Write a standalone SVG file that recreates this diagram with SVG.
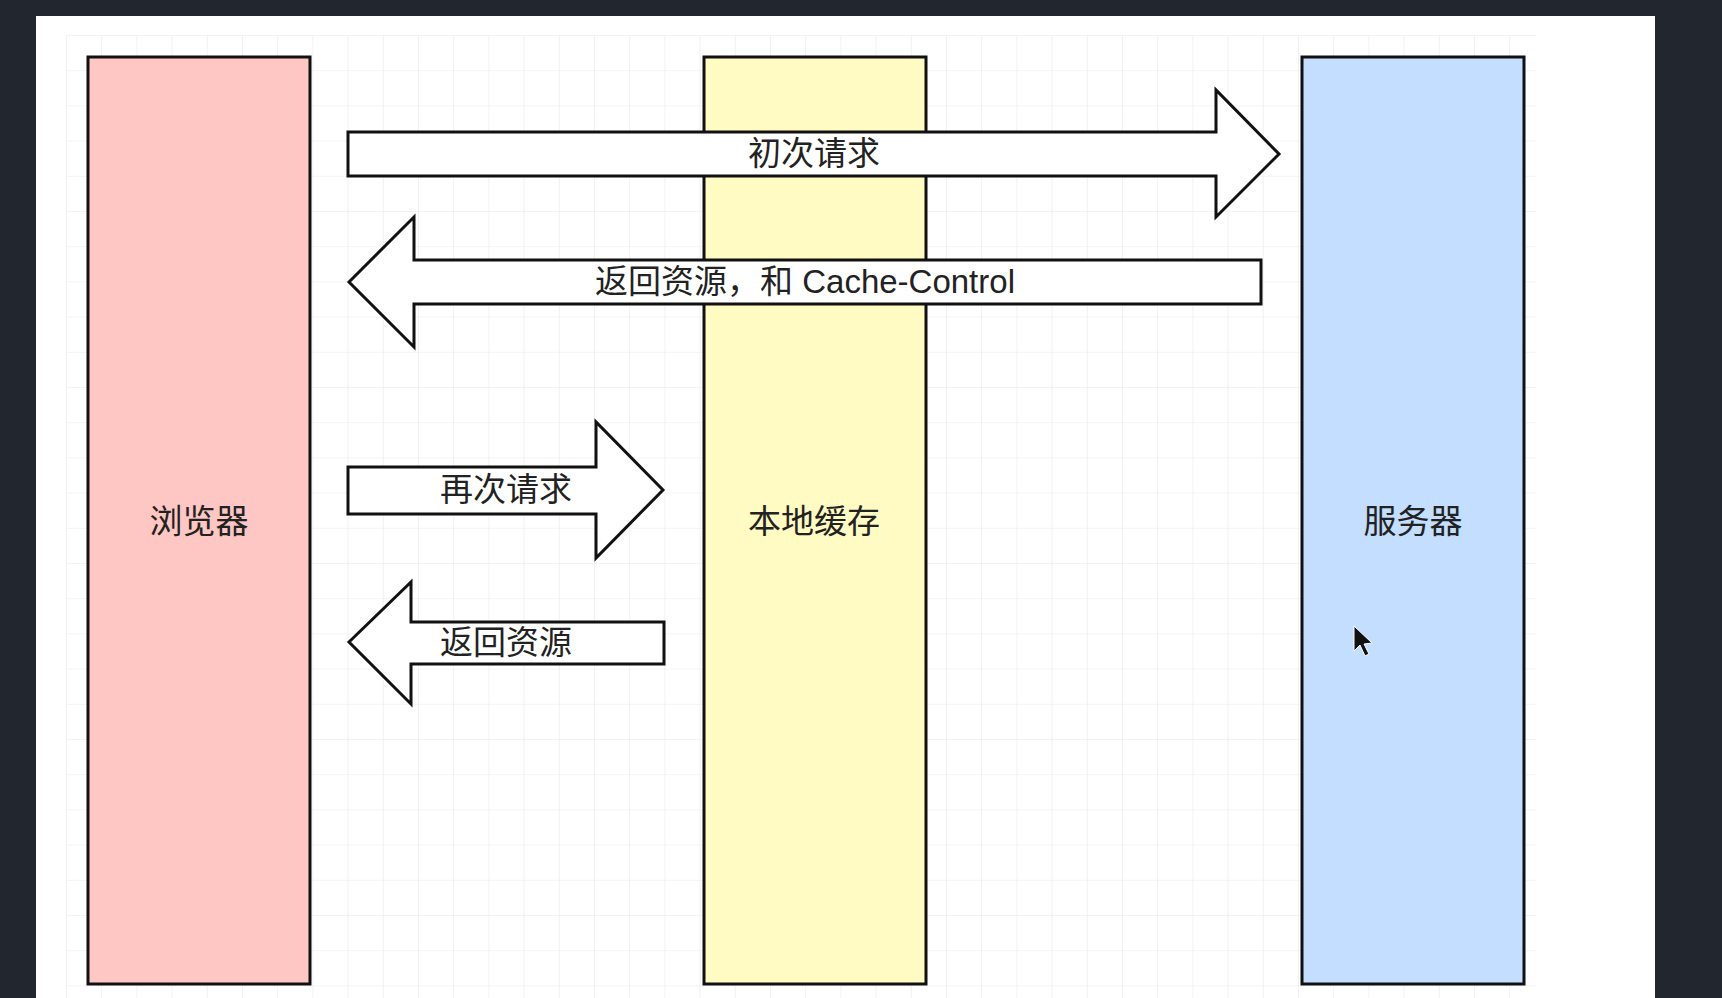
<svg xmlns="http://www.w3.org/2000/svg" width="1722" height="998" viewBox="0 0 1722 998">
<defs>
<pattern id="grid" width="35.2" height="35.2" patternUnits="userSpaceOnUse" x="66" y="35">
<path d="M0 0H35.2M0 0V35.2" stroke="#e9e9e9" stroke-width="1.2" fill="none"/>
</pattern>
</defs>
<style>
.box{stroke:#111;stroke-width:3}
.arr{fill:#fff;stroke:#111;stroke-width:3;stroke-linejoin:miter}
text{font-family:"Liberation Sans","Noto Sans CJK SC",sans-serif;font-size:33px;fill:#222;text-anchor:middle;dominant-baseline:central}
</style>
<rect width="1722" height="998" fill="#22262e"/>
<rect x="36" y="16" width="1619" height="982" fill="#fff"/>
<rect x="66" y="35" width="1470" height="963" fill="url(#grid)"/>
<g id="browser"><rect class="box" x="88" y="57" width="222" height="927" fill="#ffc7c3"/><text x="199" y="521">浏览器</text></g>
<g id="cache"><rect class="box" x="704" y="57" width="222" height="927" fill="#fffbc2"/><text x="814" y="521">本地缓存</text></g>
<g id="server"><rect class="box" x="1302" y="57" width="222" height="927" fill="#c3deff"/><text x="1413" y="521">服务器</text></g>
<g id="connectors">
<g id="a1"><path class="arr" d="M348 132H1216V90L1279 154L1216 217V176H348Z"/><text x="814" y="153">初次请求</text></g>
<g id="a2"><path class="arr" d="M349 282L414 217V260H1261V304H414V347Z"/><text x="805" y="281">返回资源，和 Cache-Control</text></g>
<g id="a3"><path class="arr" d="M348 467H596V422L663 490L596 558V514H348Z"/><text x="506" y="489">再次请求</text></g>
<g id="a4"><path class="arr" d="M349 642L411 582V622H664V664H411V704Z"/><text x="506" y="642">返回资源</text></g>
</g>
<path d="M1354 626V651L1360 645L1365 656L1369 654L1364 644L1372 643Z" fill="#111" stroke="#fff" stroke-width="1"/>
</svg>
